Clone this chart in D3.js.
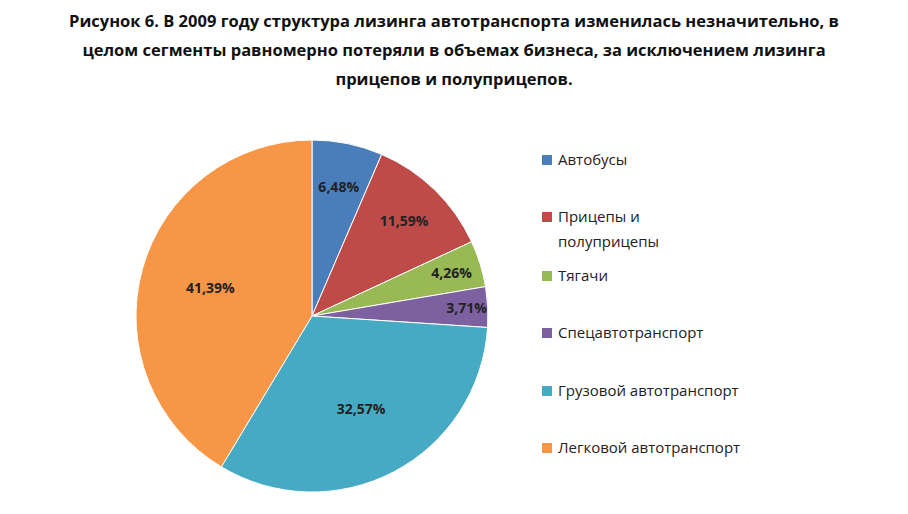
<!DOCTYPE html><html><head><meta charset="utf-8"><script src="https://cdn.jsdelivr.net/npm/d3@7"></script>
<style>body{margin:0;background:#fff}</style></head><body><svg id="c" width="908" height="514"></svg>
<script>
const titleLines=["Рисунок 6.  В 2009 году структура лизинга автотранспорта изменилась незначительно, в","целом сегменты равномерно потеряли в объемах бизнеса, за исключением лизинга","прицепов и полуприцепов."];
const categories=["Автобусы","Прицепы и полуприцепы","Тягачи","Спецавтотранспорт","Грузовой автотранспорт","Легковой автотранспорт"];
const legendLines=[["Автобусы"],["Прицепы и","полуприцепы"],["Тягачи"],["Спецавтотранспорт"],["Грузовой автотранспорт"],["Легковой автотранспорт"]];
const values=[6.48,11.59,4.26,3.71,32.57,41.39];
const labels=["6,48%","11,59%","4,26%","3,71%","32,57%","41,39%"];
const colors=["#4a7ebb","#be4b48","#98b954","#7d60a0","#46aac5","#f79646"];
const labelR=[0.75,0.75,0.83,0.88,0.6,0.6];
const svg=d3.select("#c");
const F="'Open Sans',sans-serif";
svg.selectAll(".t").data(titleLines).join("text").attr("x",454).attr("y",(d,i)=>27+i*29)
 .attr("text-anchor","middle").attr("font-family",F).attr("font-weight","bold").attr("font-size",16.5).attr("fill","#111").text(d=>d);
const cx=312,cy=316,R=176;
const pie=d3.pie().sort(null).value(d=>d)(values);
const arc=d3.arc().innerRadius(0).outerRadius(R);
const g=svg.append("g").attr("transform",`translate(${cx},${cy})`);
g.selectAll("path").data(pie).join("path").attr("d",arc).attr("fill",(d,i)=>colors[i]).attr("stroke","#fff").attr("stroke-width",1);
g.selectAll(".l").data(pie).join("text").attr("font-family",F).attr("font-weight","bold").attr("font-size",14).attr("fill","#222")
 .attr("text-anchor","middle").attr("dy","0.35em")
 .attr("transform",(d,i)=>{const a=(d.startAngle+d.endAngle)/2,r=R*labelR[i];return `translate(${r*Math.sin(a)},${-r*Math.cos(a)})`})
 .text((d,i)=>labels[i]);
const ly=[160,217,276,333,391,448];
const lg=svg.selectAll(".lg").data(legendLines).join("g");
lg.append("rect").attr("x",542).attr("y",(d,i)=>ly[i]-5).attr("width",10).attr("height",10).attr("fill",(d,i)=>colors[i]);
lg.each(function(d,i){d3.select(this).selectAll("text").data(d).join("text").attr("x",558).attr("y",(t,j)=>ly[i]+j*25).attr("dy","0.35em")
 .attr("font-family",F).attr("font-size",15).attr("fill","#222").text(t=>t);});
</script></body></html>
